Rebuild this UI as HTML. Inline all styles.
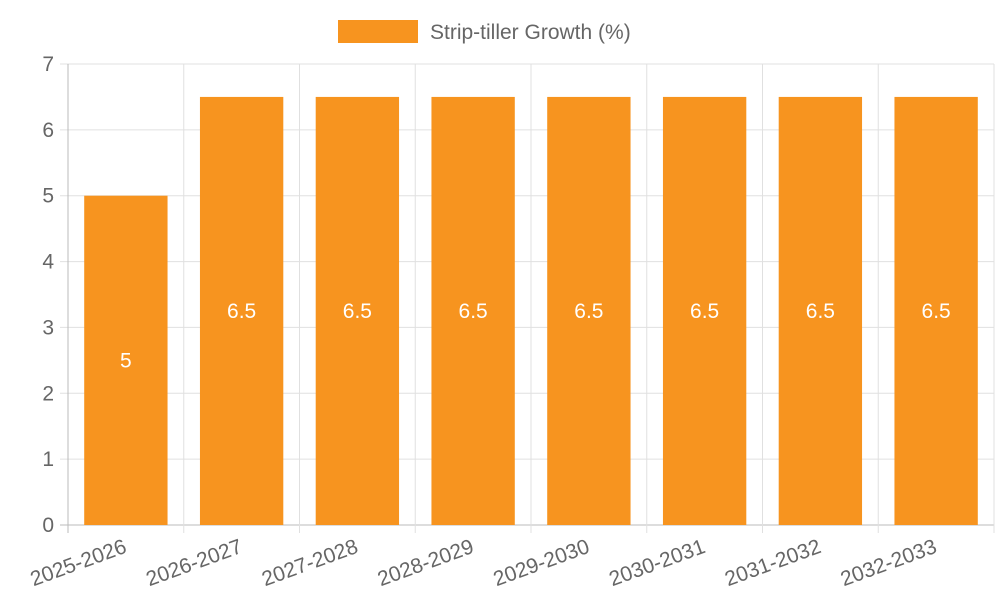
<!DOCTYPE html>
<html><head><meta charset="utf-8"><style>
body{margin:0;background:#fff;font-family:"Liberation Sans",sans-serif;}
</style></head><body>
<svg id="chart" width="1000" height="600" xmlns="http://www.w3.org/2000/svg" font-family="Liberation Sans, sans-serif">
<g id="legend">
<rect x="338" y="20" width="80" height="23" fill="#F7941F"/>
<text x="430" y="39" font-size="21" fill="#666">Strip-tiller Growth (%)</text>
</g>
<g id="grid"></g><g id="bars"></g><g id="axes"></g>
</svg>
<script>
const categories=["2025-2026","2026-2027","2027-2028","2028-2029","2029-2030","2030-2031","2031-2032","2032-2033"];
const values=[5,6.5,6.5,6.5,6.5,6.5,6.5,6.5];
const yTicks=[0,1,2,3,4,5,6,7];
const NS="http://www.w3.org/2000/svg";
const L=68,R=994,T=64,B=525,yMax=7;
const bw=(R-L)/categories.length;
const y=v=>B-(v/yMax)*(B-T);
const x=i=>L+i*bw;
function mk(t,a,p){const e=document.createElementNS(NS,t);for(const k in a)e.setAttribute(k,a[k]);p.appendChild(e);return e;}
const grid=document.getElementById('grid'),bars=document.getElementById('bars'),axes=document.getElementById('axes');
yTicks.forEach(v=>{
 const l=mk('line',{x1:L-8,x2:R,y1:y(v),y2:y(v),stroke:v===0?'#bbb':'#e0e0e0','stroke-width':1},grid);
 
 
 const t=mk('text',{x:L-14,y:y(v)+7,'text-anchor':'end','font-size':21,fill:'#666'},axes);
 t.textContent=v;
 
 
});
for(let i=0;i<=categories.length;i++){
 const l=mk('line',{x1:x(i),x2:x(i),y1:T,y2:B+8,stroke:i===0?'#bbb':'#e0e0e0','stroke-width':1},grid);
 
 
}
categories.forEach((c,i)=>{
 const bx=x(i)+bw*0.14,w=bw*0.72;
 const r=mk('rect',{x:bx,y:y(values[i]),width:w,height:B-y(values[i]),fill:'#F7941F'},bars);
 
 
 const vt=mk('text',{x:bx+w/2,y:(y(values[i])+B)/2+7,'text-anchor':'middle','font-size':21,fill:'#fff'},bars);
 vt.textContent=values[i];
 
 
 const cx=x(i)+bw/2+2,cy=B+27;
 const t=mk('text',{x:cx,y:cy,'text-anchor':'end','font-size':21,fill:'#666',transform:`rotate(-20 ${cx} ${cy})`},axes);
 t.textContent=c;
 
 
});
</script>
</body></html>
